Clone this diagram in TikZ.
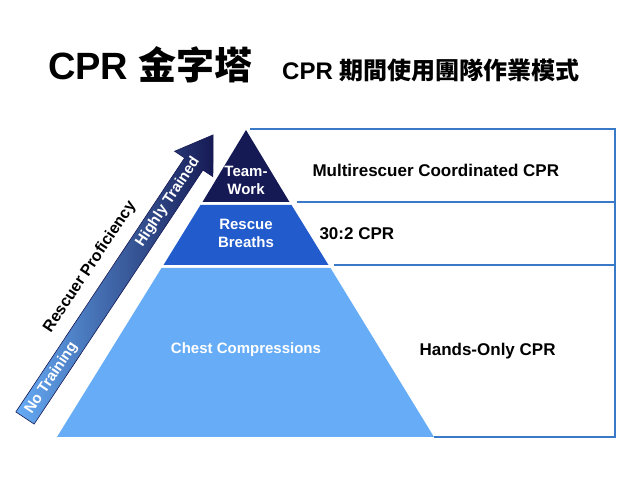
\documentclass[tikz,border=0pt]{standalone}
\usepackage{fontspec}
\setmainfont{Liberation Sans}
\newfontfamily\cjk{Noto Sans CJK TC}
\definecolor{navy}{RGB}{22,26,84}
\definecolor{midblue}{RGB}{34,92,204}
\definecolor{lightblue}{RGB}{102,172,246}
\definecolor{lineblue}{RGB}{58,120,200}
\tikzset{
  lbl/.style={font=\bfseries\fontsize{15}{18}\selectfont, text=white, align=center},
  side/.style={font=\bfseries\fontsize{17}{18}\selectfont, anchor=west},
  box/.style={draw=lineblue, line width=1.3pt},
  onarr/.style={font=\bfseries\fontsize{15}{16}\selectfont, text=white, rotate=56.4},
  offarr/.style={font=\bfseries\fontsize{16}{17}\selectfont, rotate=56.4}
}
\begin{document}
\begin{tikzpicture}[x=1pt,y=-1pt]
\useasboundingbox (0,0) rectangle (638,478);
\node[font=\bfseries\fontsize{38}{40}\selectfont, anchor=base west, inner sep=0pt] (t1) at (48,80) {CPR {\cjk 金字塔}};
\node[font=\bfseries\fontsize{24}{26}\selectfont, anchor=base west, inner sep=0pt] (t2) at (282,80) {CPR {\cjk 期間使用團隊作業模式}};
% pyramid
\fill[lightblue] (161.5,268) -- (330.5,268) -- (434,437) -- (57,437) -- cycle;
\fill[midblue] (200.5,205) -- (291.5,205) -- (328.5,265) -- (163.5,265) -- cycle;
\fill[navy] (246,130) -- (289.5,202) -- (202.5,202) -- cycle;
\node[lbl] (tw) at (246,180) {Team-\\Work};
\node[lbl] (rb) at (246,233) {Rescue\\Breaths};
\node[lbl] (cc) at (246,350) {Chest Compressions};
% boxes
\coordinate (a) at (250,129); \coordinate (b) at (615,129);
\coordinate (c) at (615,437); \coordinate (d) at (434,437);
\draw[box] (a) -- (b) -- (c) -- (d);
\coordinate (s1) at (297,202); \coordinate (e1) at (615,202);
\coordinate (s2) at (334,265); \coordinate (e2) at (615,265);
\draw[box] (s1) -- (e1); \draw[box] (s2) -- (e2);
\node[side] (m1) at (309,170) {Multirescuer Coordinated CPR};
\node[side] (m2) at (316,234) {30:2 CPR};
\node[side] (m3) at (416,351) {Hands-Only CPR};
% arrow
\begin{scope}[shift={(25,418)}, rotate=56.4]
\shade[left color=lightblue, right color=navy, draw=navy, line width=0.6pt]
  (0,-11) -- (305,-11) -- (305,-23) -- (340,0) -- (305,23) -- (305,11) -- (0,11) -- cycle;
\end{scope}
\node[onarr] (nt) at (51.5,378) {No Training};
\node[onarr] (ht) at (168,202) {Highly Trained};
\node[offarr] (rp) at (90,267) {Rescuer Proficiency};
\end{tikzpicture}
\end{document}
